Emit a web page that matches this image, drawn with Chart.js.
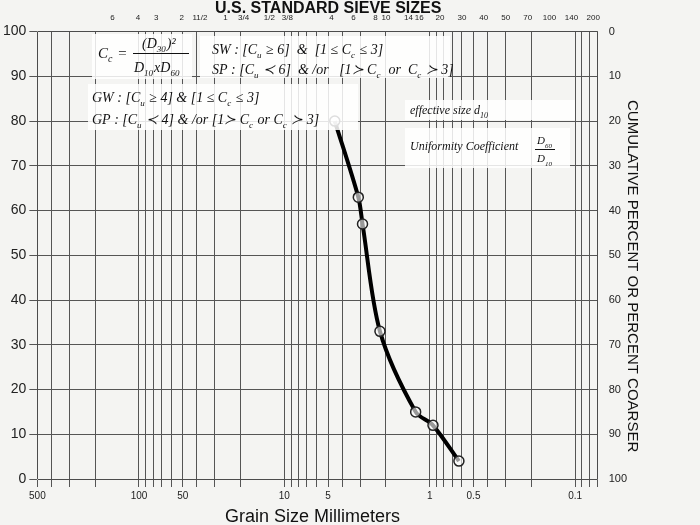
<!DOCTYPE html>
<html><head><meta charset="utf-8">
<script src="https://cdn.jsdelivr.net/npm/chart.js@4/dist/chart.umd.min.js"></script>
<style>body{margin:0;background:#f4f4f2}#w{width:700px;height:525px}</style>
</head><body><div id="w"><canvas id="c"></canvas></div>
<script>
const grainSize = [4.5, 3.1, 2.9, 2.2, 1.25, 0.95, 0.63];
const percentFiner = [80, 63, 57, 33, 15, 12, 4];
const bottomLabels = [500, 100, 50, 10, 5, 1, 0.5, 0.1];
const sieveSizes = [152.4,101.6,76.2,50.8,38.1,25.4,19.05,12.7,9.525,4.75,3.35,2.36,2.0,1.4,1.18,0.85,0.6,0.425,0.3,0.212,0.15,0.106,0.075];
const sieveLabels = ['6','4','3','2','11/2','1','3/4','1/2','3/8','4','6','8','10','14','16','20','30','40','50','70','100','140','200'];
const leftTicks = [0,10,20,30,40,50,60,70,80,90,100];

function rich(g,parts,x,y,size){
  for(const p of parts){
    const sub=p[0]==='_';const s=sub?p.slice(1):p;
    g.font='italic '+(sub?Math.round(size*0.65):size)+'px "Liberation Serif"';
    g.fillText(s,x,sub?y+4:y);x+=g.measureText(s).width+(sub?1:0);
  }
}
const notes = {
  id:'notes',
  afterDraw(c){
    const g=c.ctx; g.save();
    g.fillStyle='rgba(255,255,255,0.85)';
    g.fillRect(92,34,100,45); g.fillRect(200,36,250,42); g.fillRect(88,84,270,46);
    g.fillRect(405,100,170,20); g.fillRect(405,128,165,40);
    g.fillStyle='#111';
    rich(g,['C','_c',' ='],98,58,15);
    rich(g,['(D','_30',')²'],142,48,14);
    rich(g,['D','_10','xD','_60'],134,72,14);
    g.fillRect(133,53,56,1);
    rich(g,['SW : [C','_u',' ≥ 6]  &  [1 ≤ C','_c',' ≤ 3]'],212,54,14);
    rich(g,['SP : [C','_u',' ≺ 6]  & /or   [1≻ C','_c','  or  C','_c',' ≻ 3]'],212,74,14);
    rich(g,['GW : [C','_u',' ≥ 4] & [1 ≤ C','_c',' ≤ 3]'],92,102,14);
    rich(g,['GP : [C','_u',' ≺ 4] & /or [1≻ C','_c',' or C','_c',' ≻ 3]'],92,124,14);
    rich(g,['effective size d','_10'],410,114,12);
    rich(g,['Uniformity Coefficient'],410,150,12);
    rich(g,['D','_60'],537,144,11); rich(g,['D','_10'],537,162,11);
    g.fillRect(535,149,20,1);
    g.font='bold 16px "Liberation Sans"'; g.fillText('U.S. STANDARD SIEVE SIZES',215,13);
    g.font='18px "Liberation Sans"'; g.fillText('Grain Size Millimeters',225,522);
    g.translate(628,100); g.rotate(Math.PI/2); g.font='15px "Liberation Sans"';
    g.fillText('CUMULATIVE PERCENT OR PERCENT COARSER',0,0);
    g.restore();
  }
};

new Chart(document.getElementById('c'),{
  type:'line',
  data:{datasets:[{data:grainSize.map((x,i)=>({x,y:percentFiner[i]})),
    borderColor:'#000',borderWidth:4,tension:0.3,pointRadius:5,
    pointBackgroundColor:'rgba(255,255,255,0.6)',pointBorderColor:'#222',pointBorderWidth:1.5}]},
  options:{responsive:true,maintainAspectRatio:false,animation:false,
    layout:{padding:{left:0,right:70,top:12,bottom:20}},
    plugins:{legend:{display:false},tooltip:{enabled:false}},
    scales:{
      x:{type:'logarithmic',reverse:true,min:0.07,max:500,
        grid:{color:'#555',lineWidth:1},
        afterBuildTicks(a){const v=[];for(let e=-2;e<=2;e++)for(let m=1;m<10;m++){const n=m*Math.pow(10,e);if(n>=0.07&&n<=500)v.push({value:n});}a.ticks=v;},
        ticks:{autoSkip:false,maxRotation:0,color:'#222',font:{size:10},callback:v=>bottomLabels.some(b=>Math.abs(b-v)/b<1e-6)?String(v):''}},
      x2:{type:'logarithmic',reverse:true,min:0.07,max:500,position:'top',
        grid:{display:false},
        afterBuildTicks(a){a.ticks=sieveSizes.map(v=>({value:v}));},
        ticks:{autoSkip:false,maxRotation:0,color:'#222',font:{size:8},padding:1,callback:(v,i)=>sieveLabels[i]}},
      y:{min:0,max:100,grid:{color:'#555'},
        afterBuildTicks(a){a.ticks=leftTicks.map(v=>({value:v}));},
        ticks:{color:'#222',font:{size:14}}},
      y2:{position:'right',min:0,max:100,reverse:true,grid:{display:false},
        afterBuildTicks(a){a.ticks=leftTicks.map(v=>({value:v}));},
        ticks:{color:'#222',font:{size:11}}}
    }},
  plugins:[notes]
});
</script></body></html>
